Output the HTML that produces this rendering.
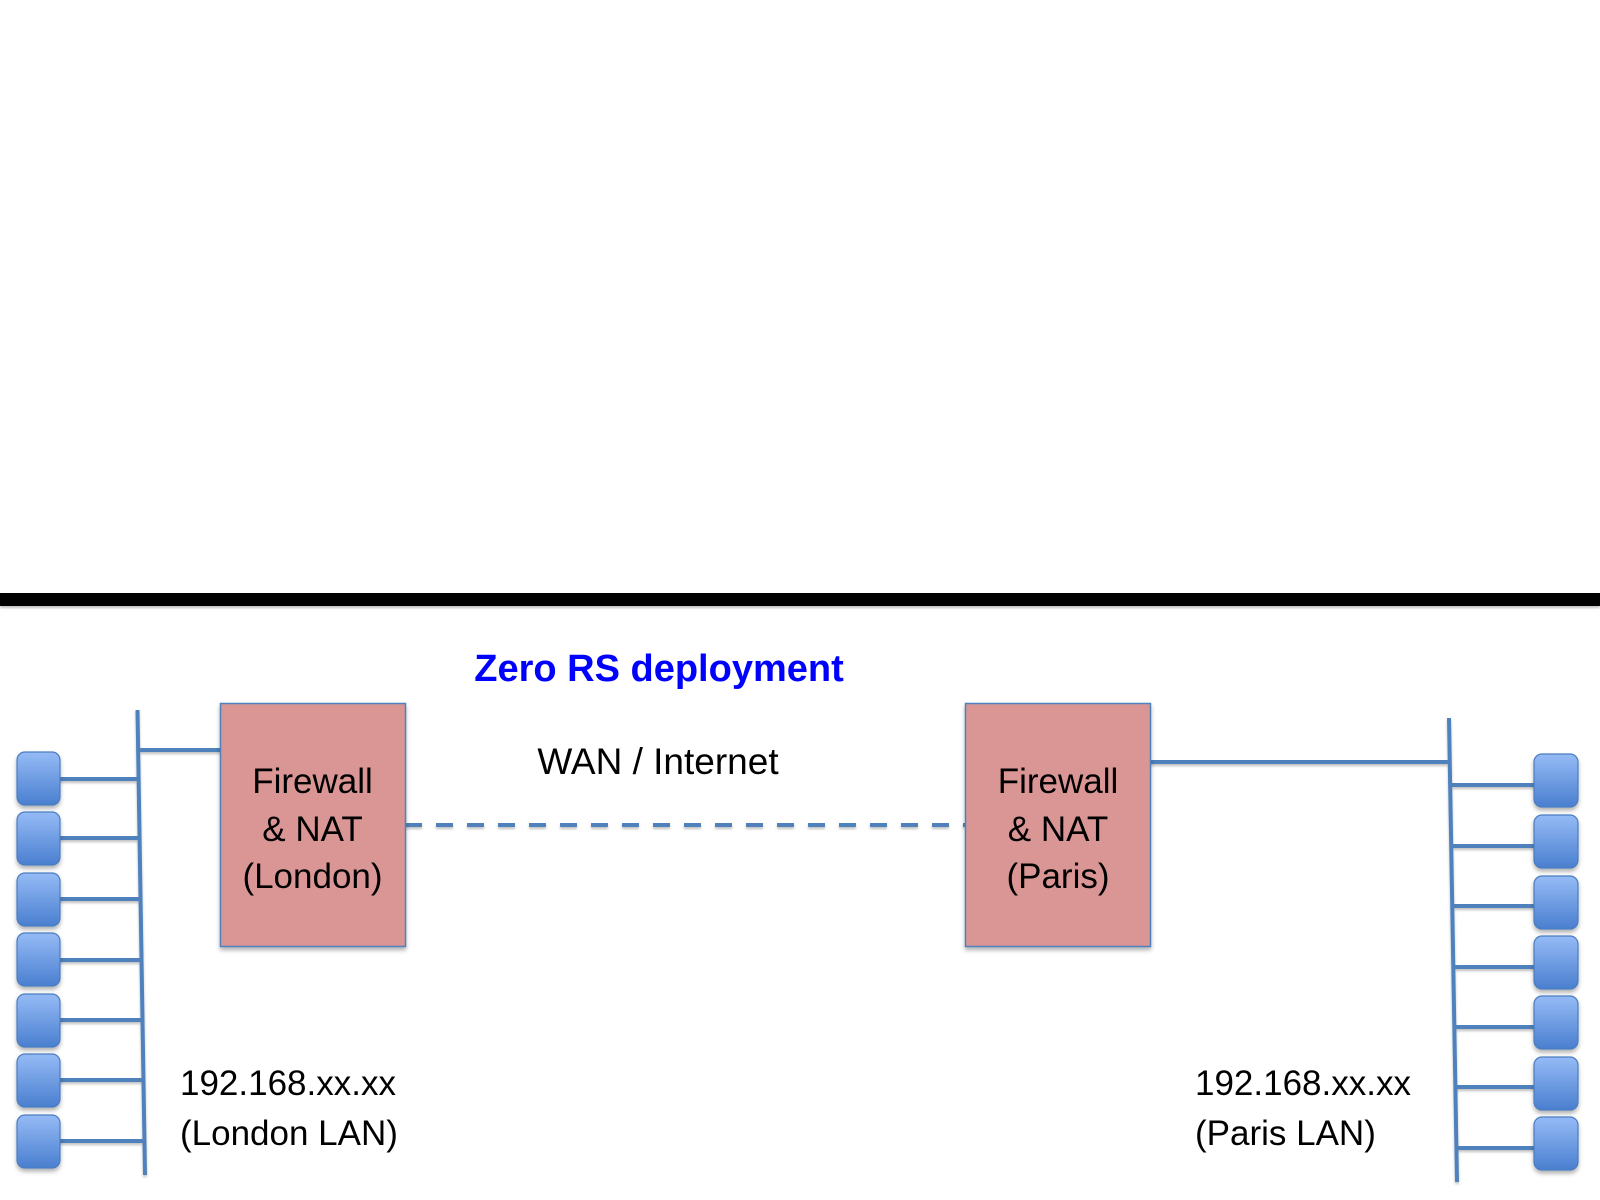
<!DOCTYPE html>
<html>
<head>
<meta charset="utf-8">
<style>
  html, body { margin: 0; padding: 0; background: #ffffff; }
  body { width: 1600px; height: 1200px; overflow: hidden; }
  svg { display: block; }
  text { font-family: "Liberation Sans", sans-serif; }
</style>
</head>
<body>
<svg width="1600" height="1200" viewBox="0 0 1600 1200" xmlns="http://www.w3.org/2000/svg">
  <defs>
    <linearGradient id="dev" x1="0" y1="0" x2="0" y2="1">
      <stop offset="0" stop-color="#95bbf6"/>
      <stop offset="1" stop-color="#4a7fcf"/>
    </linearGradient>
    <filter id="sh" x="-20%" y="-20%" width="140%" height="160%">
      <feDropShadow dx="0" dy="3" stdDeviation="2" flood-color="#000" flood-opacity="0.3"/>
    </filter>
    <filter id="shl" x="-5%" y="-50%" width="110%" height="300%">
      <feDropShadow dx="0" dy="2" stdDeviation="1.2" flood-color="#000" flood-opacity="0.25"/>
    </filter>
  </defs>

  <rect x="0" y="0" width="1600" height="1200" fill="#ffffff"/>

  <!-- black bar -->
  <rect x="0" y="593" width="1600" height="13" fill="#000000" filter="url(#shl)"/>

  <!-- Title -->
  <text x="659" y="681" font-size="38" font-weight="bold" fill="#0000ff" text-anchor="middle">Zero RS deployment</text>
  <text x="658" y="774" font-size="37" fill="#000000" text-anchor="middle">WAN / Internet</text>

  <g stroke="#4f81bd" stroke-width="4" fill="none" filter="url(#shl)">
    <!-- left bus -->
    <line x1="137.5" y1="710" x2="145" y2="1175"/>
    <!-- London connector -->
    <line x1="137" y1="750" x2="221" y2="750"/>
    <!-- left device lines -->
    <line x1="58" y1="779" x2="139.5" y2="779"/>
    <line x1="58" y1="838" x2="140.5" y2="838"/>
    <line x1="58" y1="899" x2="141.5" y2="899"/>
    <line x1="58" y1="960" x2="142.5" y2="960"/>
    <line x1="58" y1="1020" x2="143.5" y2="1020"/>
    <line x1="58" y1="1080" x2="144.5" y2="1080"/>
    <line x1="58" y1="1141" x2="145.5" y2="1141"/>

    <!-- right bus -->
    <line x1="1449" y1="718" x2="1457" y2="1182"/>
    <!-- Paris connector -->
    <line x1="1149" y1="762" x2="1450" y2="762"/>
    <!-- right device lines -->
    <line x1="1450" y1="785" x2="1536" y2="785"/>
    <line x1="1451" y1="846" x2="1536" y2="846"/>
    <line x1="1452" y1="906" x2="1536" y2="906"/>
    <line x1="1453" y1="967" x2="1536" y2="967"/>
    <line x1="1454" y1="1027" x2="1536" y2="1027"/>
    <line x1="1455" y1="1087" x2="1536" y2="1087"/>
    <line x1="1456" y1="1148" x2="1536" y2="1148"/>

    <!-- dashed WAN link -->
    <line x1="405" y1="825" x2="965" y2="825" stroke-dasharray="17 14"/>
  </g>

  <!-- Firewall boxes -->
  <rect x="220.5" y="703.5" width="185" height="243" fill="#d99694" stroke="#4f81bd" stroke-width="1.5" filter="url(#sh)"/>
  <rect x="965.5" y="703.5" width="185" height="243" fill="#d99694" stroke="#4f81bd" stroke-width="1.5" filter="url(#sh)"/>

  <g font-size="35" fill="#000000" text-anchor="middle">
    <text x="312.5" y="793">Firewall</text>
    <text x="312.5" y="841">&amp; NAT</text>
    <text x="312.5" y="888">(London)</text>
    <text x="1058" y="793">Firewall</text>
    <text x="1058" y="841">&amp; NAT</text>
    <text x="1058" y="888">(Paris)</text>
  </g>

  <!-- LAN labels -->
  <g font-size="35" fill="#000000">
    <text x="180" y="1095">192.168.xx.xx</text>
    <text x="180" y="1145">(London LAN)</text>
    <text x="1195" y="1095">192.168.xx.xx</text>
    <text x="1195" y="1145">(Paris LAN)</text>
  </g>

  <!-- Left devices -->
  <g fill="url(#dev)" stroke="#4a7cc0" stroke-width="1.2" filter="url(#sh)">
    <rect x="17" y="752" width="43" height="53" rx="8"/>
    <rect x="17" y="812" width="43" height="53" rx="8"/>
    <rect x="17" y="873" width="43" height="53" rx="8"/>
    <rect x="17" y="933" width="43" height="53" rx="8"/>
    <rect x="17" y="994" width="43" height="53" rx="8"/>
    <rect x="17" y="1054" width="43" height="53" rx="8"/>
    <rect x="17" y="1115" width="43" height="53" rx="8"/>

    <!-- Right devices -->
    <rect x="1534" y="754" width="44" height="53" rx="8"/>
    <rect x="1534" y="815" width="44" height="53" rx="8"/>
    <rect x="1534" y="876" width="44" height="53" rx="8"/>
    <rect x="1534" y="936" width="44" height="53" rx="8"/>
    <rect x="1534" y="996" width="44" height="53" rx="8"/>
    <rect x="1534" y="1057" width="44" height="53" rx="8"/>
    <rect x="1534" y="1117" width="44" height="53" rx="8"/>
  </g>
</svg>
</body>
</html>
